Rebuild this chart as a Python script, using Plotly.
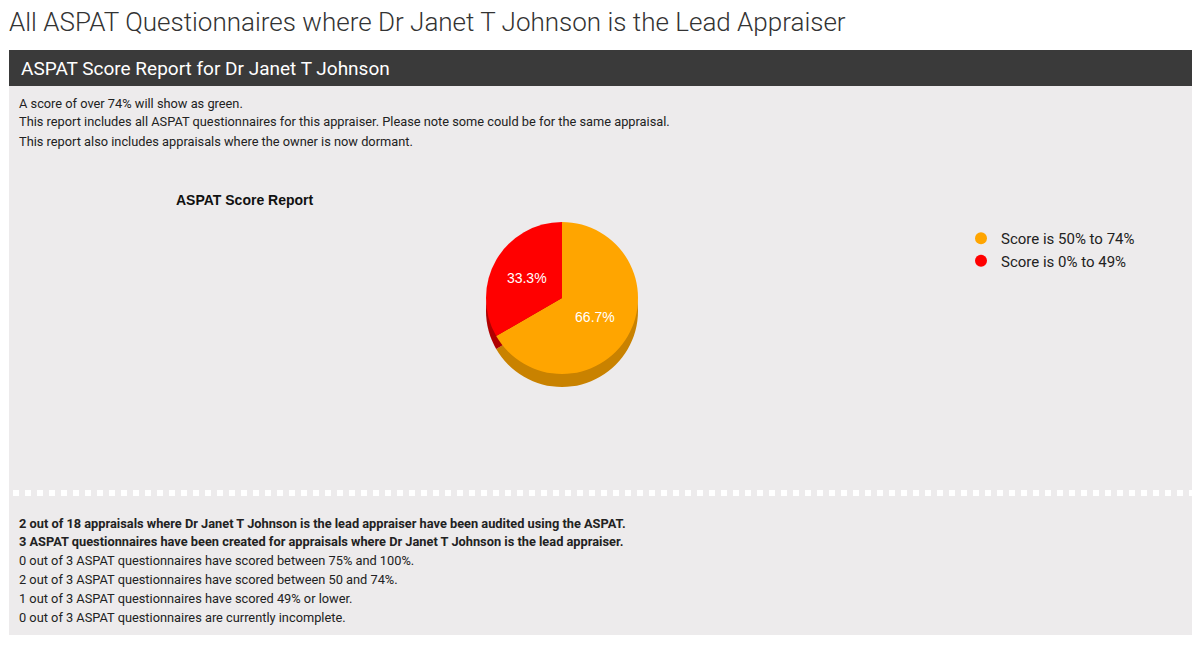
import plotly.graph_objects as go

W, H = 1200, 650
labels = ["Score is 50% to 74%", "Score is 0% to 49%"]
values = [2, 1]
colors = ["#FFA500", "#FF0000"]
shadow_colors = ["#C98200", "#B00000"]

intro_lines = [
    "A score of over 74% will show as green.",
    "This report includes all ASPAT questionnaires for this appraiser. Please note some could be for the same appraisal.",
    "This report also includes appraisals where the owner is now dormant.",
]
summary_lines = [
    "<b>2 out of 18 appraisals where Dr Janet T Johnson is the lead appraiser have been audited using the ASPAT.</b>",
    "<b>3 ASPAT questionnaires have been created for appraisals where Dr Janet T Johnson is the lead appraiser.</b>",
    "0 out of 3 ASPAT questionnaires have scored between 75% and 100%.",
    "2 out of 3 ASPAT questionnaires have scored between 50 and 74%.",
    "1 out of 3 ASPAT questionnaires have scored 49% or lower.",
    "0 out of 3 ASPAT questionnaires are currently incomplete.",
]

OX, OY = -9, -8  # page offset compensation
def px(x): return (x + OX) / W
def py(y): return 1 - (y + OY) / H

cx, cy, r, depth = 563, 298, 76, 13
fig = go.Figure()
for dy, cols, txt in [(depth, shadow_colors, False), (0, colors, True)]:
    fig.add_trace(go.Pie(
        labels=labels, values=values, sort=False, direction="clockwise", rotation=0,
        marker=dict(colors=cols, line=dict(width=0)),
        domain=dict(x=[px(cx - r), px(cx + r)], y=[py(cy + dy + r), py(cy + dy - r)]),
        textinfo="percent" if txt else "none", texttemplate="%{percent:.1%}" if txt else None,
        textfont=dict(color="white", size=14, family="Arial"),
        insidetextorientation="horizontal", showlegend=False, hoverinfo="skip"))

for lab, col in zip(labels, colors):
    fig.add_trace(go.Scatter(x=[None], y=[None], mode="markers", name=lab,
                             marker=dict(color=col, size=15, symbol="circle")))

ann = [
    dict(x=px(8), y=py(22), text="All ASPAT Questionnaires where Dr Janet T Johnson is the Lead Appraiser",
         font=dict(size=26, color="#333", family="Roboto", weight=300)),
    dict(x=px(20), y=py(68), text="ASPAT Score Report for Dr Janet T Johnson",
         font=dict(size=19, color="white", family="Roboto")),
    dict(x=px(175), y=py(200), text="<b>ASPAT Score Report</b>",
         font=dict(size=14, color="#111", family="Arial")),
]
for i, t in enumerate(intro_lines):
    ann.append(dict(x=px(18), y=py(103 + 19 * i), text=t, font=dict(size=12.8, color="#222", family="Roboto")))
for i, t in enumerate(summary_lines):
    ann.append(dict(x=px(18), y=py(523 + 18.8 * i), text=t, font=dict(size=12.8, color="#222", family="Roboto")))
for a in ann:
    a.update(xref="paper", yref="paper", xanchor="left", yanchor="middle", showarrow=False)

shapes = [
    dict(type="rect", xref="paper", yref="paper", x0=px(10), x1=px(1197), y0=py(635), y1=py(50),
         fillcolor="#EDEBEC", line=dict(width=0), layer="below"),
    dict(type="rect", xref="paper", yref="paper", x0=px(10), x1=px(1197), y0=py(86), y1=py(50),
         fillcolor="#3A3A3A", line=dict(width=0), layer="below"),
    dict(type="line", xref="paper", yref="paper", x0=px(14), x1=px(1197), y0=py(493), y1=py(493),
         line=dict(color="white", width=6, dash="dot")),
]

fig.update_layout(
    width=W, height=H, margin=dict(l=0, r=0, t=0, b=0),
    paper_bgcolor="white", plot_bgcolor="rgba(0,0,0,0)",
    xaxis=dict(visible=False), yaxis=dict(visible=False),
    annotations=ann, shapes=shapes,
    legend=dict(x=px(962), y=py(222), xanchor="left", yanchor="top", bgcolor="rgba(0,0,0,0)",
                font=dict(size=15, color="#222", family="Roboto"), itemsizing="constant"),
)
fig.write_html("out.html")
